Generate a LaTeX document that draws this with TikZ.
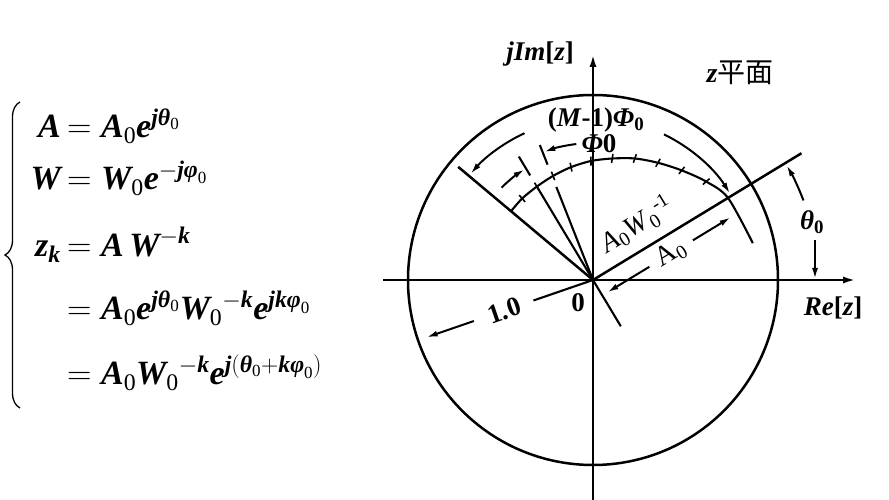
\documentclass[tikz,border=0pt]{standalone}
\usepackage{fix-cm}
\usepackage{amsmath}
\usepackage{fontspec}
\setmainfont{Liberation Serif}
\newfontfamily\cjk{Noto Sans CJK SC}
\usetikzlibrary{arrows.meta,decorations.pathreplacing}
\newcommand\bv[1]{\text{\bfseries\itshape #1}}
\newcommand\bz{\text{0}}
\begin{document}
\begin{tikzpicture}[x=1pt,y=1pt,
  ln/.style={line width=2.5pt},
  tln/.style={line width=2.1pt},
  arr/.style={-{Latex[length=11pt,width=6pt]}, line width=2pt},
  axarr/.style={-{Latex[length=13pt,width=7pt]}, line width=2.5pt},
  eq/.style={inner sep=0pt, font=\fontsize{34}{40}\selectfont},
  lab/.style={inner sep=0pt, font=\fontsize{27}{30}\selectfont\bfseries},
  rlab/.style={inner sep=0pt, font=\fontsize{28}{30}\selectfont},
]
\useasboundingbox (0,0) rectangle (889,500);
% ---------- equations ----------
\draw[line width=1.3pt, decorate, decoration={brace, amplitude=15pt}] (20,92) -- (20,398);
\node[eq, anchor=base east] (e1l) at (61,362) {$\bv{A}$};
\node[eq, anchor=base west] (e1r) at (67,362) {$=\bv{A}_{\bz}\bv{e}^{\bv{j}\bv{θ}_{\bz}}$};
\node[eq, anchor=base east] (e2l) at (61,310) {$\bv{W}$};
\node[eq, anchor=base west] (e2r) at (67,310) {$=\bv{W}_{\bz}\bv{e}^{-\bv{j}\bv{φ}_{\bz}}$};
\node[eq, anchor=base east] (e3l) at (61,243) {$\bv{z}_{\bv{k}}$};
\node[eq, anchor=base west] (e3r) at (67,243) {$=\bv{A}\,\bv{W}^{-\bv{k}}$};
\node[eq, anchor=base west] (e4r) at (67,180) {$=\bv{A}_{\bz}\bv{e}^{\bv{j}\bv{θ}_{\bz}}\bv{W}_{\bz}{}^{-\bv{k}}\bv{e}^{\bv{j}\bv{k}\bv{φ}_{\bz}}$};
\node[eq, anchor=base west] (e5r) at (67,115) {$=\bv{A}_{\bz}\bv{W}_{\bz}{}^{-\bv{k}}\bv{e}^{\bv{j}(\bv{θ}_{\bz}+\bv{k}\bv{φ}_{\bz})}$};
% ---------- z plane ----------
\begin{scope}[shift={(593,220)}]
\coordinate (O) at (0,0);
\draw[ln] (O) circle (185);
\coordinate (xl) at (-210,0); \coordinate (xr) at (263,0);
\coordinate (yb) at (0,-225); \coordinate (yt) at (0,226);
\draw[axarr] (xl) -- (xr);
\draw[axarr] (yb) -- (yt);
% radial lines
\coordinate (th) at (31.3:244);
\coordinate (l1) at (140:176);
\coordinate (l2a) at (121:109); \coordinate (l2b) at (301:54);
\coordinate (l3) at (111.5:100);
\draw[ln] (O) -- (th);
\draw[ln] (O) -- (l1);
\draw[tln] (l2a) -- (l2b);
\draw[tln] (O) -- (l3);
% spiral
\draw[tln] plot[smooth] coordinates {(13:164) (31.3:158) (41:150) (51:141) (61:134) (71:128.5) (81:123) (91:119) (101:115) (111:111.5) (121:109) (131:108) (140:107)};
\foreach \a/\r in {41/150,51/141,61/134,71/128.5,81/123,91/119,101/115,111/111.5,121/109,131/108}
  \draw[line width=1.6pt] (\a:{\r-4.5}) -- (\a:{\r+4.5});
% (M-1)Phi0 dimension
\draw[arr] (115:162) arc[start angle=115, end angle=139, radius=162];
\draw[arr] (64:162) arc[start angle=64, end angle=32.3, radius=162];
\node[lab] (mphi) at (3,160) {(\textit{M}-1)\textit{Φ}\textsubscript{0}};
% Phi0 dimension
\draw[tln] (121:122) -- (121:144);
\draw[tln] (111.5:124) -- (111.5:145);
\draw[arr] (134.7:130) arc[start angle=134.7, end angle=121.8, radius=130];
\draw[arr] (97:137) arc[start angle=97, end angle=110.8, radius=137];
\node[lab] (phi) at (6,136) {\textit{Φ}0};
% theta0 dimension
\draw[arr] (20.7:225) arc[start angle=20.7, end angle=30.6, radius=225];
\node[lab, font=\fontsize{27}{30}\selectfont\bfseries\itshape] (thl) at (219,58) {θ\textsubscript{\upshape 0}};
\coordinate (ta) at (222,40); \coordinate (tb) at (222,1);
\draw[arr] (ta) -- (tb);
% 1.0 dimension
\coordinate (d1) at (199:63); \coordinate (d2) at (199:126); \coordinate (d3) at (199:176);
\draw[tln] (O) -- (d1);
\node[lab, rotate=19] (one) at (199:94) {1.0};
\draw[arr] (d2) -- (d3);
% A0 dimension
\begin{scope}[rotate=31.3]
\coordinate (a1) at (55,-18); \coordinate (a2) at (6,-18);
\coordinate (a3) at (106,-18); \coordinate (a4) at (150,-18);
\draw[arr] (a1) -- (a2);
\draw[arr] (a3) -- (a4);
\node[rlab, rotate=31.3] (a0) at (80,-18) {A\textsubscript{0}};
\node[rlab, rotate=31.3] (aw) at (66,25) {\textit{A}\textsubscript{0}\textit{W}\textsubscript{0}\textsuperscript{-1}};
\end{scope}
% labels
\node[lab] (zero) at (-15,-23) {0};
\node[lab] (re) at (240,-28) {\textit{Re}[\textit{z}]};
\node[lab] (im) at (-53,226) {\textit{jIm}[\textit{z}]};
\node[inner sep=0pt, font=\fontsize{28}{30}\selectfont] (zp) at (147,207) {\textbf{\textit{z}}\cjk 平面};
\end{scope}
\end{tikzpicture}
\end{document}
